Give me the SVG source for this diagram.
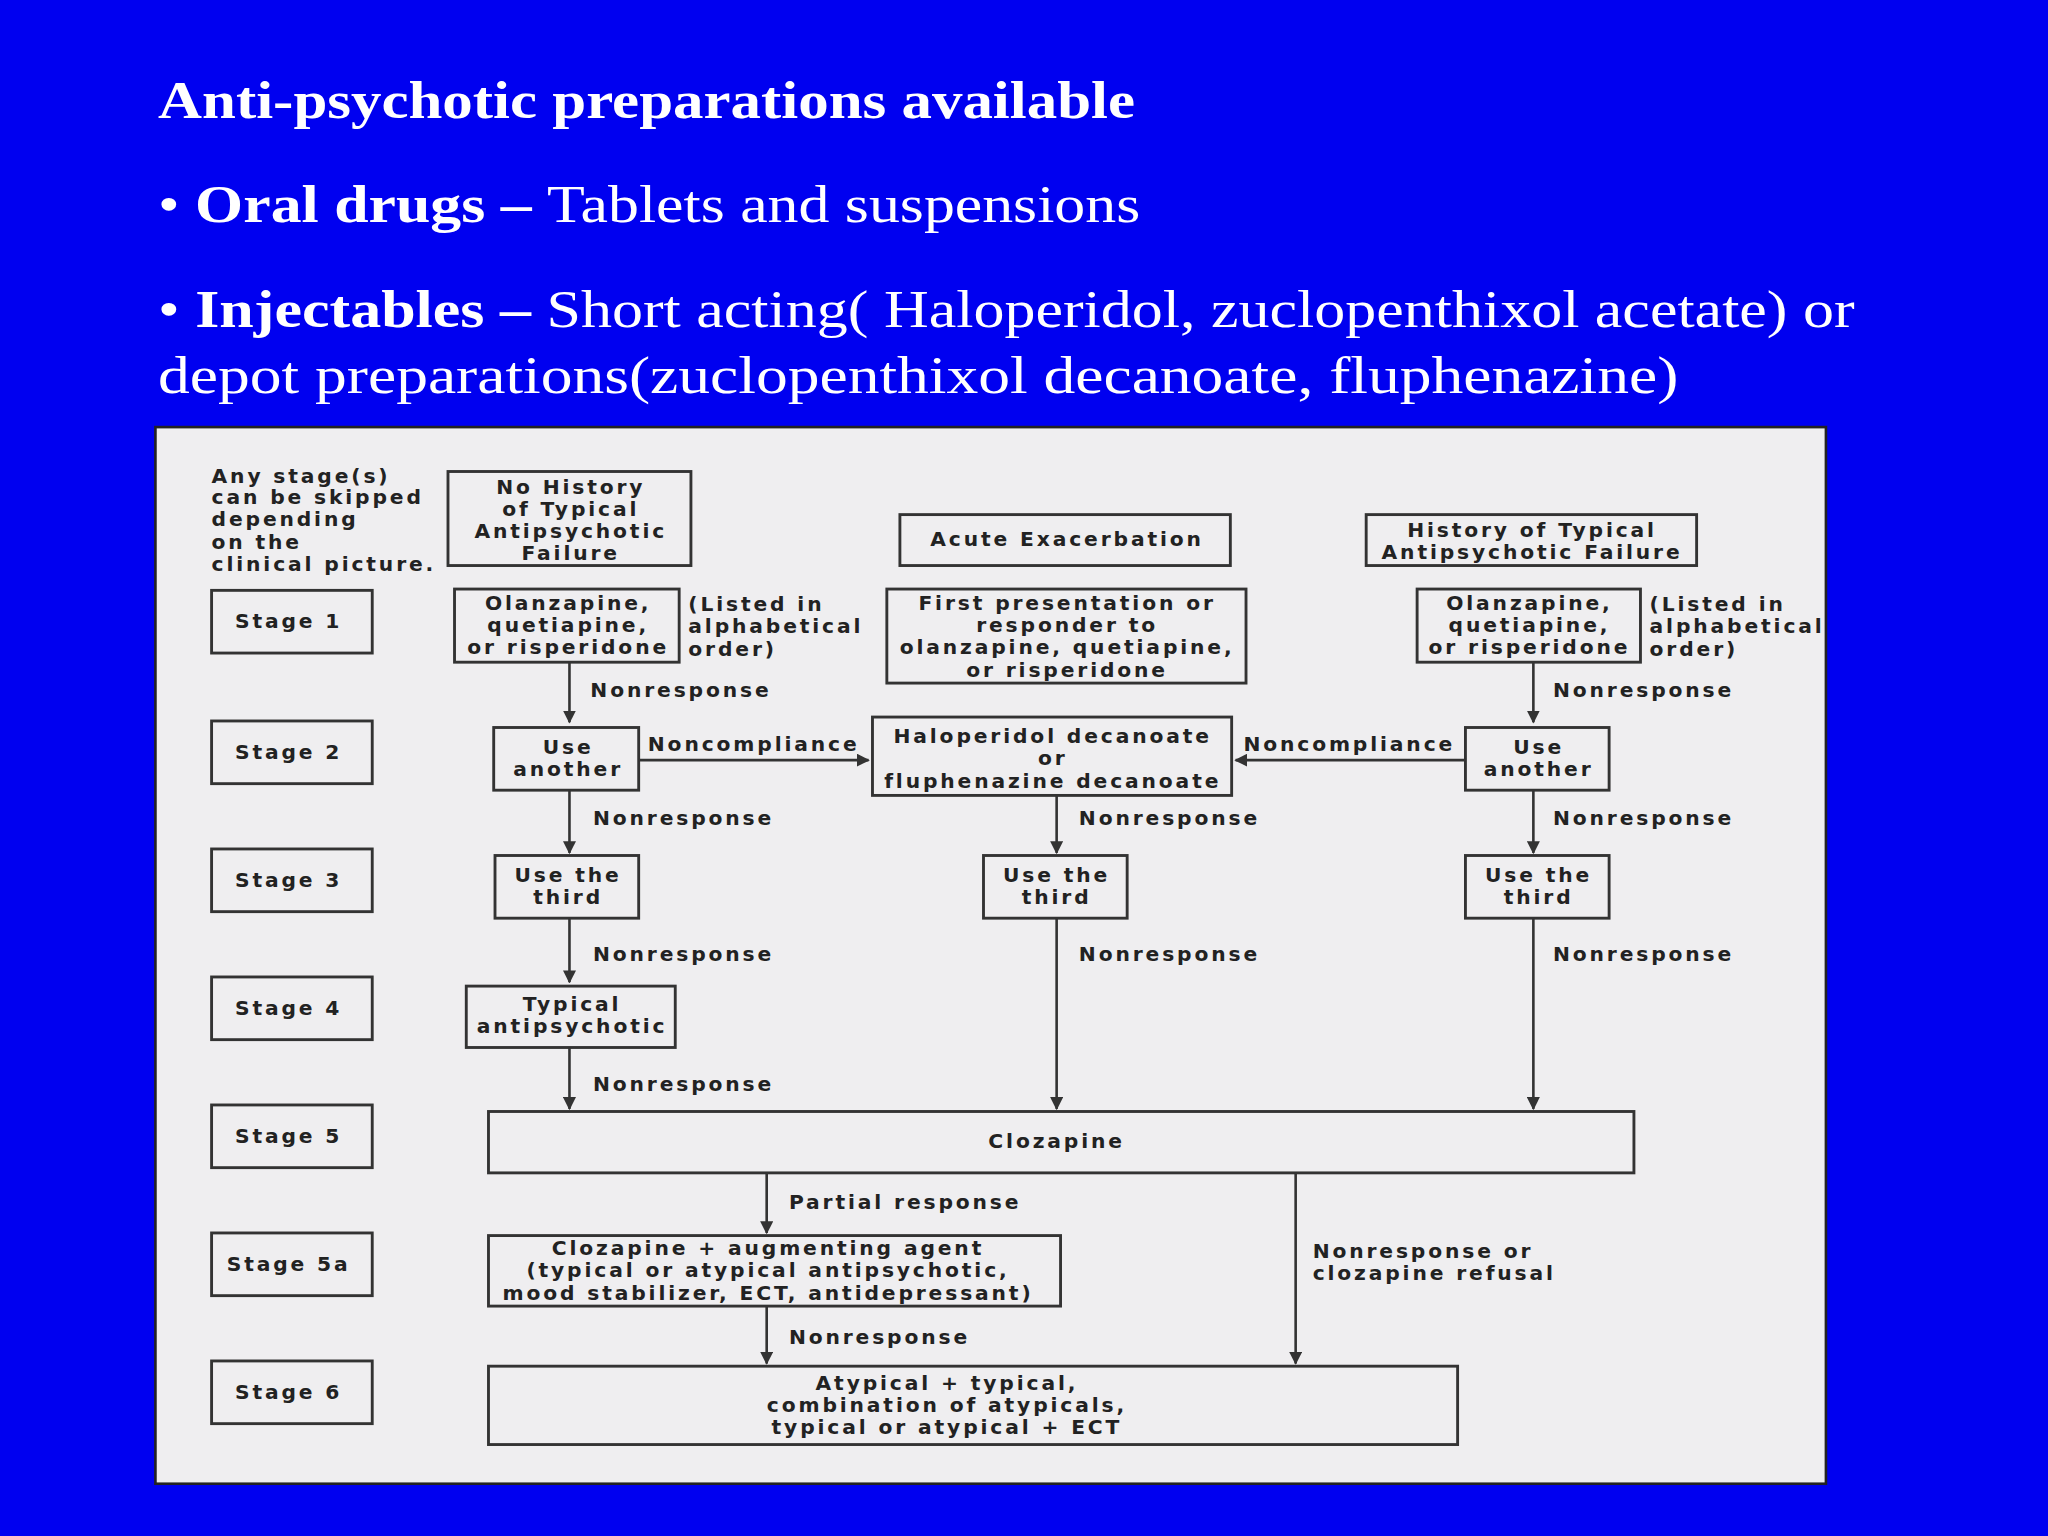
<svg xmlns="http://www.w3.org/2000/svg" width="2048" height="1536" viewBox="0 0 2048 1536">
<style>
.h{font-family:"Liberation Serif",serif;fill:#fff;font-size:41px}
.b{fill:none;stroke:#333;stroke-width:2.2}
.t{font-family:"DejaVu Sans",sans-serif;font-weight:bold;font-size:15.5px;letter-spacing:2.2px;fill:#222}
.c{text-anchor:middle}
.l{stroke:#333;stroke-width:2;fill:none;marker-end:url(#a)}
</style>
<defs><marker id="a" viewBox="0 0 10 10" refX="9" refY="5" markerWidth="5" markerHeight="5" orient="auto"><path d="M0,0L10,5L0,10z" fill="#333"/></marker></defs>
<rect width="2048" height="1536" fill="#0000f0"/>
<g transform="scale(1.3061)">
<text class="h" x="121" y="90" font-weight="bold" textLength="748" lengthAdjust="spacingAndGlyphs">Anti-psychotic preparations available</text>
<text class="h" x="121" y="170" textLength="752" lengthAdjust="spacingAndGlyphs">• <tspan font-weight="bold">Oral drugs – </tspan>Tablets and suspensions</text>
<text class="h" x="121" y="250" textLength="1299" lengthAdjust="spacingAndGlyphs">• <tspan font-weight="bold">Injectables – </tspan>Short acting( Haloperidol, zuclopenthixol acetate) or</text>
<text class="h" x="121" y="301" textLength="1164" lengthAdjust="spacingAndGlyphs">depot preparations(zuclopenthixol decanoate, fluphenazine)</text>
<rect x="119" y="327" width="1279" height="809" fill="#efeef0" stroke="#222" stroke-width="2"/>
<g id="note"><text class="t" x="162" y="370">Any stage(s)</text><text class="t" x="162" y="386">can be skipped</text><text class="t" x="162" y="403">depending</text><text class="t" x="162" y="420">on the</text><text class="t" x="162" y="437">clinical picture.</text></g>
<g id="stages">
<rect class="b" x="162" y="452" width="123" height="48"/><text class="t c" x="221" y="481">Stage 1</text>
<rect class="b" x="162" y="552" width="123" height="48"/><text class="t c" x="221" y="581">Stage 2</text>
<rect class="b" x="162" y="650" width="123" height="48"/><text class="t c" x="221" y="679">Stage 3</text>
<rect class="b" x="162" y="748" width="123" height="48"/><text class="t c" x="221" y="777">Stage 4</text>
<rect class="b" x="162" y="846" width="123" height="48"/><text class="t c" x="221" y="875">Stage 5</text>
<rect class="b" x="162" y="944" width="123" height="48"/><text class="t c" x="221" y="973">Stage 5a</text>
<rect class="b" x="162" y="1042" width="123" height="48"/><text class="t c" x="221" y="1071">Stage 6</text>
</g>
<g id="nohist"><rect class="b" x="343" y="361" width="186" height="72"/><text class="t c" x="437" y="378">No History</text><text class="t c" x="437" y="395">of Typical</text><text class="t c" x="437" y="412">Antipsychotic</text><text class="t c" x="437" y="429">Failure</text></g>
<g id="acute"><rect class="b" x="689" y="394" width="253" height="39"/><text class="t c" x="817" y="418">Acute Exacerbation</text></g>
<g id="hist"><rect class="b" x="1046" y="394" width="253" height="39"/><text class="t c" x="1173" y="411">History of Typical</text><text class="t c" x="1173" y="428">Antipsychotic Failure</text></g>
<g id="olanL"><rect class="b" x="348" y="451" width="172" height="56"/><text class="t c" x="435" y="467">Olanzapine,</text><text class="t c" x="435" y="484">quetiapine,</text><text class="t c" x="435" y="501">or risperidone</text>
<text class="t" x="527" y="468">(Listed in</text><text class="t" x="527" y="485">alphabetical</text><text class="t" x="527" y="502">order)</text></g>
<g id="first"><rect class="b" x="679" y="451" width="275" height="72"/><text class="t c" x="817" y="467">First presentation or</text><text class="t c" x="817" y="484">responder to</text><text class="t c" x="817" y="501">olanzapine, quetiapine,</text><text class="t c" x="817" y="518">or risperidone</text></g>
<g id="olanR"><rect class="b" x="1085" y="451" width="171" height="56"/><text class="t c" x="1171" y="467">Olanzapine,</text><text class="t c" x="1171" y="484">quetiapine,</text><text class="t c" x="1171" y="501">or risperidone</text>
<text class="t" x="1263" y="468">(Listed in</text><text class="t" x="1263" y="485">alphabetical</text><text class="t" x="1263" y="502">order)</text></g>
<g id="useL"><rect class="b" x="378" y="557" width="111" height="48"/><text class="t c" x="435" y="577">Use</text><text class="t c" x="435" y="594">another</text></g>
<g id="halo"><rect class="b" x="668" y="549" width="275" height="60"/><text class="t c" x="806" y="569">Haloperidol decanoate</text><text class="t c" x="806" y="586">or</text><text class="t c" x="806" y="603">fluphenazine decanoate</text></g>
<g id="useR"><rect class="b" x="1122" y="557" width="110" height="48"/><text class="t c" x="1178" y="577">Use</text><text class="t c" x="1178" y="594">another</text></g>
<g id="thirdL"><rect class="b" x="379" y="655" width="110" height="48"/><text class="t c" x="435" y="675">Use the</text><text class="t c" x="435" y="692">third</text></g>
<g id="thirdM"><rect class="b" x="753" y="655" width="110" height="48"/><text class="t c" x="809" y="675">Use the</text><text class="t c" x="809" y="692">third</text></g>
<g id="thirdR"><rect class="b" x="1122" y="655" width="110" height="48"/><text class="t c" x="1178" y="675">Use the</text><text class="t c" x="1178" y="692">third</text></g>
<g id="typical"><rect class="b" x="357" y="755" width="160" height="47"/><text class="t c" x="438" y="774">Typical</text><text class="t c" x="438" y="791">antipsychotic</text></g>
<g id="cloz"><rect class="b" x="374" y="851" width="877" height="47"/><text class="t c" x="809" y="879">Clozapine</text></g>
<g id="aug"><rect class="b" x="374" y="946" width="438" height="54"/><text class="t c" x="588" y="961">Clozapine + augmenting agent</text><text class="t c" x="588" y="978">(typical or atypical antipsychotic,</text><text class="t c" x="588" y="995" letter-spacing="1.5">mood stabilizer, ECT, antidepressant)</text></g>
<g id="s6"><rect class="b" x="374" y="1046" width="742" height="60"/><text class="t c" x="725" y="1064">Atypical + typical,</text><text class="t c" x="725" y="1081">combination of atypicals,</text><text class="t c" x="725" y="1098">typical or atypical + ECT</text></g>
<g id="connectors">
<path class="l" d="M436,507V553"/><path class="l" d="M489,582H665"/><path class="l" d="M1122,582H946"/><path class="l" d="M1174,507V553"/>
<path class="l" d="M436,605V653"/><path class="l" d="M809,609V653"/><path class="l" d="M1174,605V653"/>
<path class="l" d="M436,703V752"/><path class="l" d="M809,703V849"/><path class="l" d="M1174,703V849"/>
<path class="l" d="M436,802V849"/><path class="l" d="M587,898V944"/><path class="l" d="M587,1000V1044"/><path class="l" d="M992,898V1044"/>
<text class="t" x="452" y="534">Nonresponse</text><text class="t" x="1189" y="534">Nonresponse</text>
<text class="t" x="496" y="575" letter-spacing="0.6">Noncompliance</text><text class="t" x="952" y="575" letter-spacing="0.6">Noncompliance</text>
<text class="t" x="454" y="632">Nonresponse</text><text class="t" x="826" y="632">Nonresponse</text><text class="t" x="1189" y="632">Nonresponse</text>
<text class="t" x="454" y="736">Nonresponse</text><text class="t" x="826" y="736">Nonresponse</text><text class="t" x="1189" y="736">Nonresponse</text>
<text class="t" x="454" y="835">Nonresponse</text><text class="t" x="604" y="926">Partial response</text><text class="t" x="604" y="1029">Nonresponse</text>
<text class="t" x="1005" y="963">Nonresponse or</text><text class="t" x="1005" y="980">clozapine refusal</text>
</g>
</g>
</svg>
